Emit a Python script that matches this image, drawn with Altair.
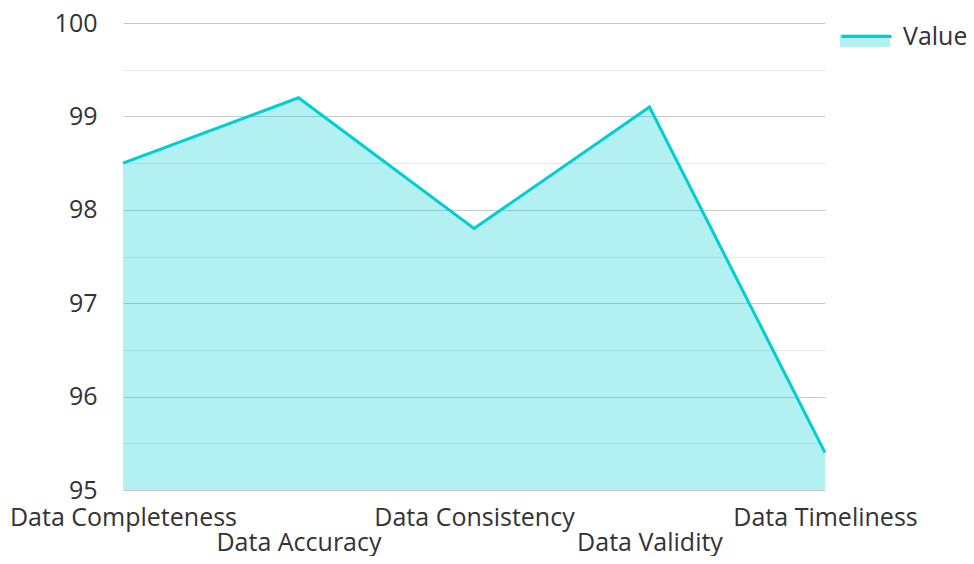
import json
import altair as alt
import pandas as pd

# ---- data ----
categories = ["Data Completeness", "Data Accuracy", "Data Consistency", "Data Validity", "Data Timeliness"]
values = [98.5, 99.2, 97.8, 99.1, 95.4]
series_name = "Value"
y_domain = [95, 100]
y_ticks = [95, 95.5, 96, 96.5, 97, 97.5, 98, 98.5, 99, 99.5, 100]
lower_row = ["Data Accuracy", "Data Validity"]

df = pd.DataFrame({
    "category": categories,
    "value": values,
    "area_series": [series_name] * len(categories),
    "line_series": [series_name] * len(categories),
})

FONT = "Open Sans"
FS = 25
TEAL = "#00CED1"
TEXT = "#333333"

lower_test = "indexof(%s, datum.value) >= 0" % json.dumps(lower_row)

x_enc = alt.X(
    "category:N",
    sort=categories,
    scale=alt.Scale(type="point", padding=0),
    axis=alt.Axis(
        title=None, labelAngle=0, labelFont=FONT, labelFontSize=FS, labelColor=TEXT,
        labelPadding={"condition": {"test": lower_test, "value": 40}, "value": 15},
        labelLimit=0,
        domain=False, ticks=False, tickSize=0, grid=False,
        labelOverlap=False, labelFlush=False,
    ),
)

y_enc = alt.Y(
    "value:Q",
    scale=alt.Scale(domain=y_domain, nice=False, zero=False),
    axis=alt.Axis(
        title=None, values=y_ticks,
        labelExpr="datum.value % 1 === 0 ? format(datum.value, 'd') : ''",
        labelFont=FONT, labelFontSize=FS, labelColor=TEXT, labelPadding=26,
        domain=False, ticks=False, tickSize=0,
        gridColor={"condition": {"test": "datum.value % 1 === 0", "value": "#c8c8c8"}, "value": "#e6e6e6"},
        gridWidth=1,
    ),
)

legend_common = dict(
    orient="none", legendX=717, legendY=-13, title=None, padding=0,
    symbolSize=2500, labelFont=FONT, labelFontSize=FS, labelColor=TEXT, labelOffset=10,
    labelLimit=0,
)

area = alt.Chart(df).mark_area(opacity=0.3, clip=True).encode(
    x=x_enc,
    y=y_enc,
    fill=alt.Fill(
        "area_series:N",
        scale=alt.Scale(range=[TEAL]),
        legend=alt.Legend(symbolType="M-1,-0.04H1V0.48H-1Z", symbolStrokeWidth=0,
                          labelExpr="''", **legend_common),
    ),
)

line = alt.Chart(df).mark_line(strokeWidth=3).encode(
    x=x_enc,
    y=y_enc,
    stroke=alt.Stroke(
        "line_series:N",
        scale=alt.Scale(range=[TEAL]),
        legend=alt.Legend(symbolType="stroke", symbolStrokeWidth=3, **legend_common),
    ),
)

chart = alt.layer(area, line).properties(
    width=702,
    height=467,
    padding={"left": 115, "top": 15, "right": 141, "bottom": 66},
    autosize=alt.AutoSizeParams(type="none"),
).configure_view(stroke=None)

chart.save("out.html", embed_options={"renderer": "svg", "actions": False})
